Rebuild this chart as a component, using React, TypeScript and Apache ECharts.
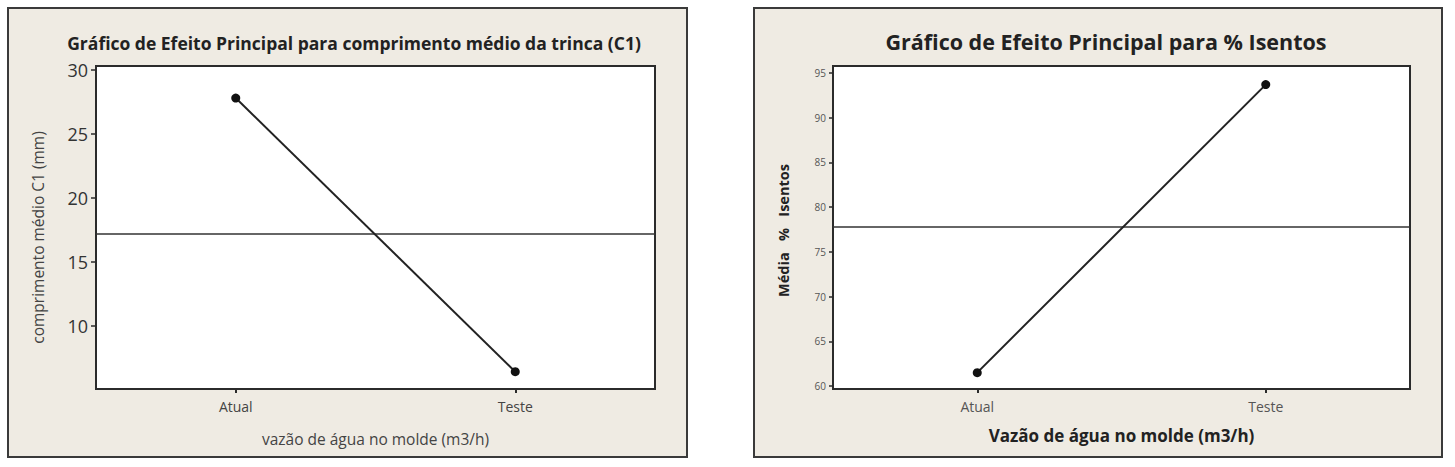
import React, { useEffect, useRef } from "react";
import * as echarts from "echarts";

// ---- data ----
const categories = ["Atual", "Teste"];

const c1Values = [27.8, 6.45];
const c1Mean = 17.2;
const c1Ticks = [10, 15, 20, 25, 30];
const c1Min = 5.1;
const c1Max = 30.3;

const isentosValues = [61.5, 93.7];
const isentosMean = 77.8;
const isentosTicks = [60, 65, 70, 75, 80, 85, 90, 95];
const isentosMin = 59.67;
const isentosMax = 95.78;

const titleLeft = "Gráfico de Efeito Principal para comprimento médio da trinca (C1)";
const titleRight = "Gráfico de Efeito Principal para % Isentos";
const yNameLeft = "comprimento médio C1 (mm)";
const yNameRight = "Média   %   Isentos";
const xNameLeft = "vazão de água no molde (m3/h)";
const xNameRight = "Vazão de água no molde (m3/h)";

const FONT = "'Open Sans', 'Noto Sans', sans-serif";
const PANEL_BG = "#efebe3";
const DARK = "#2b2b2b";

export default function App() {
  const ref = useRef<HTMLDivElement>(null);

  useEffect(() => {
    if (!ref.current) return;
    const chart = echarts.init(ref.current, undefined, { renderer: "svg" });

    const lineSeries = (idx: number, data: number[], mean: number) => ({
      type: "line",
      xAxisIndex: idx,
      yAxisIndex: idx,
      data,
      symbol: "circle",
      symbolSize: 9,
      itemStyle: { color: "#111" },
      lineStyle: { color: "#222", width: 2 },
      z: 5,
      markLine: {
        silent: true,
        symbol: "none",
        label: { show: false },
        lineStyle: { color: "#333", width: 1.5, type: "solid" },
        data: [{ yAxis: mean }],
      },
    });

    const option: any = {
      animation: false,
      textStyle: { fontFamily: FONT },
      graphic: [
        {
          type: "rect",
          z: -10,
          shape: { x: 8, y: 8, width: 679, height: 449 },
          style: { fill: PANEL_BG, stroke: "#3a3a3a", lineWidth: 2 },
        },
        {
          type: "rect",
          z: -10,
          shape: { x: 754, y: 8, width: 688, height: 449 },
          style: { fill: PANEL_BG, stroke: "#3a3a3a", lineWidth: 2 },
        },
      ],
      title: [
        {
          text: titleLeft,
          left: 349,
          top: 29,
          textAlign: "center",
          textStyle: { fontFamily: FONT, fontSize: 17.5, fontWeight: "bold", color: "#222" },
        },
        {
          text: titleRight,
          left: 1101,
          top: 25,
          textAlign: "center",
          textStyle: { fontFamily: FONT, fontSize: 21.5, fontWeight: "bold", color: "#222" },
        },
      ],
      grid: [
        {
          left: 96,
          top: 66,
          width: 559,
          height: 323,
          show: true,
          backgroundColor: "#ffffff",
          borderColor: DARK,
          borderWidth: 2,
        },
        {
          left: 833,
          top: 66,
          width: 577,
          height: 323,
          show: true,
          backgroundColor: "#ffffff",
          borderColor: DARK,
          borderWidth: 2,
        },
      ],
      xAxis: [
        {
          type: "category",
          gridIndex: 0,
          data: categories,
          boundaryGap: true,
          axisLine: { show: false },
          axisTick: { show: true, alignWithLabel: true, length: 4, lineStyle: { color: DARK, width: 2 } },
          axisLabel: { fontFamily: FONT, fontSize: 14, color: "#444", margin: 10 },
          splitLine: { show: false },
          name: xNameLeft,
          nameLocation: "middle",
          nameGap: 42,
          nameTextStyle: { fontFamily: FONT, fontSize: 15.5, color: "#444" },
        },
        {
          type: "category",
          gridIndex: 1,
          data: categories,
          boundaryGap: true,
          axisLine: { show: false },
          axisTick: { show: true, alignWithLabel: true, length: 4, lineStyle: { color: DARK, width: 2 } },
          axisLabel: { fontFamily: FONT, fontSize: 14, color: "#555", margin: 10 },
          splitLine: { show: false },
          name: xNameRight,
          nameLocation: "middle",
          nameGap: 38,
          nameTextStyle: { fontFamily: FONT, fontSize: 17, fontWeight: "bold", color: "#222" },
        },
      ],
      yAxis: [
        {
          type: "value",
          gridIndex: 0,
          min: c1Min,
          max: c1Max,
          axisLine: { show: false },
          axisTick: { show: true, length: 5, customValues: c1Ticks, lineStyle: { color: DARK, width: 1.5 } },
          axisLabel: { fontFamily: FONT, fontSize: 18, color: "#333", margin: 8, customValues: c1Ticks },
          splitLine: { show: false },
          name: yNameLeft,
          nameLocation: "middle",
          nameRotate: 90,
          nameGap: 50,
          nameTextStyle: { fontFamily: FONT, fontSize: 15.5, color: "#444", padding: [0, 20, 0, 0] },
        },
        {
          type: "value",
          gridIndex: 1,
          min: isentosMin,
          max: isentosMax,
          axisLine: { show: false },
          axisTick: { show: true, length: 4, customValues: isentosTicks, lineStyle: { color: DARK, width: 1.5 } },
          axisLabel: { fontFamily: FONT, fontSize: 10, color: "#555", margin: 7, customValues: isentosTicks },
          splitLine: { show: false },
          name: yNameRight,
          nameLocation: "middle",
          nameRotate: 90,
          nameGap: 42,
          nameTextStyle: { fontFamily: FONT, fontSize: 14.5, fontWeight: "bold", color: "#222", padding: [0, 6, 0, 0] },
        },
      ],
      series: [lineSeries(0, c1Values, c1Mean), lineSeries(1, isentosValues, isentosMean)],
    };

    chart.setOption(option);
    return () => chart.dispose();
  }, []);

  return (
    <div
      ref={ref}
      style={{ position: "fixed", left: 0, top: 0, width: 1455, height: 467, background: "#ffffff" }}
    />
  );
}
